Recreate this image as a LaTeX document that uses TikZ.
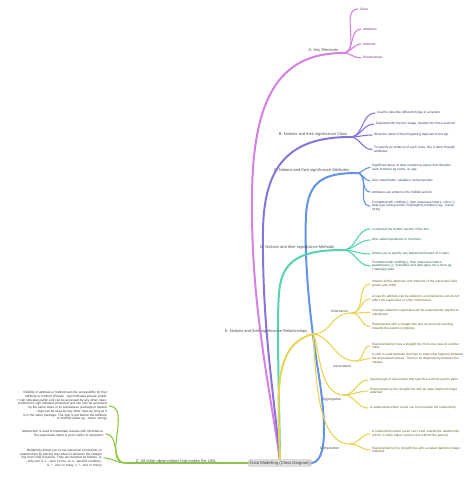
\documentclass[tikz,border=0pt]{standalone}
\usepackage{fontspec}
\setmainfont{Liberation Sans}
\usepackage{xcolor}
\usepackage{tikz}
\pgfdeclarelayer{background}
\pgfsetlayers{background,main}
\definecolor{keycol}{RGB}{214,128,228}
\definecolor{classcol}{RGB}{138,116,220}
\definecolor{attrcol}{RGB}{98,148,228}
\definecolor{methcol}{RGB}{86,212,178}
\definecolor{relcol}{RGB}{232,212,84}
\definecolor{othercol}{RGB}{142,198,72}
\tikzset{
    rootbox/.style={
        draw=gray!60,
        fill=gray!25,
        rounded corners=0.8pt,
        inner sep=1.3pt,
        font=\fontsize{4.2}{5}\selectfont,
        text=black!75,
    },
    branchlabel/.style={
        inner sep=0.6pt,
        font=\fontsize{4}{4.8}\selectfont,
        text=black!70,
    },
    sublabel/.style={
        inner sep=0.6pt,
        font=\fontsize{3.5}{4.2}\selectfont,
        text=black!70,
    },
    leaf/.style={
        anchor=west,
        align=left,
        inner xsep=2pt,
        inner ysep=0.3pt,
        font=\fontsize{3.2}{3.7}\selectfont,
        text=#1!45!black,
    },
    leafleft/.style={leaf=#1, anchor=east, align=right},
    trunk/.style={line width=2pt, line cap=round},
    twig/.style={line width=1.1pt, line cap=round},
    fanright/.style={twig, every edge/.append style={out=0, in=180}},
    fanleft/.style={twig, every edge/.append style={out=180, in=0}},
}
\begin{document}
\begin{tikzpicture}[x=1pt, y=-1pt]
    \useasboundingbox (0,0) rectangle (474,479);

    \node[rootbox] (root) at (280,463) {Data Modelling (Class Diagram)};

    % branch ends
    \coordinate (hA) at (343,53);
    \coordinate (hB) at (350,137);
    \coordinate (hC) at (357,173);
    \coordinate (hD) at (343,250);
    \coordinate (hE) at (313,334);
    \coordinate (hInh) at (352,313);
    \coordinate (hAss) at (356,361);
    \coordinate (hAgg) at (344,395);
    \coordinate (hCom) at (350,444);
    \coordinate (hF) at (125,463);

    \node[branchlabel, anchor=south east] (keyel) at (339,53) {A. Key Elements};
    \node[branchlabel, anchor=south east] (notclass) at (348,137) {B. Notions and their significance Class};
    \node[branchlabel, anchor=south east] (notattr) at (350,173) {C. Notions and their significance Attributes};
    \node[branchlabel, anchor=south east] (notmeth) at (335,250) {D. Notions and their significance Methods};
    \node[branchlabel, anchor=south east] (notrel) at (308,334) {E. Notions and their significance Relationships};
    \node[branchlabel, anchor=south west] (other) at (135,463) {C. All other observations that makes the UML};

    \node[sublabel, anchor=south east] (inh) at (349,313) {Inheritance};
    \node[sublabel, anchor=north east] (ass) at (352,364) {Association};
    \node[sublabel, anchor=north east] (agg) at (342,397) {Aggregation};
    \node[sublabel, anchor=north east] (com) at (340,446) {Composition};

    % key elements
    \node[leaf=keycol] (a1) at (358,9) {Class};
    \node[leaf=keycol] (a2) at (361,29) {Attributes};
    \node[leaf=keycol] (a3) at (361,44) {Methods};
    \node[leaf=keycol] (a4) at (361,58) {Relationships};

    % class
    \node[leaf=classcol] (b1) at (375,113) {Used to describe different things in a system};
    \node[leaf=classcol] (b2) at (374,124) {Depicted with the box shape, divided into three sections};
    \node[leaf=classcol] (b3) at (372,135) {Write the name of the thing being depicted to the top};
    \node[leaf=classcol] (b4) at (372,149.5) {To specify an instance of each class, this is done through\\attributes};

    % attributes
    \node[leaf=attrcol] (c1) at (370,167.5) {Significant piece of data containing values that describe\\each instance eg name, id, age};
    \node[leaf=attrcol] (c2) at (370,181) {Also called fields, variables, and properties};
    \node[leaf=attrcol] (c3) at (370,192) {Attributes are written in the middle section};
    \node[leaf=attrcol] (c4) at (370,206) {Formatted with visibility(-), then lowercase letters, colon (:),\\data type (string-words, int(integers)-numbers) eg. -name:\\string};

    % methods
    \node[leaf=methcol] (d1) at (370,229) {Located at the bottom section of the box};
    \node[leaf=methcol] (d2) at (370,240) {Also called operations or functions};
    \node[leaf=methcol] (d3) at (370,254) {Allows you to specify any behavioral feature of a class};
    \node[leaf=methcol] (d4) at (370,266) {Formatted with visibility(-), then lowercase letters,\\parentheses (), *(variables and data type) not a must eg\\+namefy(Login)};

    % relationships
    \node[leaf=relcol] (i1) at (370,284) {Inherits all the attributes and methods of the superclass (like\\parent and child)};
    \node[leaf=relcol] (i2) at (370,299) {A specific attribute can be added to an inheritance and do not\\affect the superclass or other inheritances};
    \node[leaf=relcol] (i3) at (370,312.5) {Changes added to superclass will be automatically applied to\\subclasses};
    \node[leaf=relcol] (i4) at (370,326.5) {Represented with a straight line and an arrow-tip pointing\\towards the parent (complete)};
    \node[leaf=relcol] (s1) at (370,346) {Represented by lines a straight line from one class to another\\class};
    \node[leaf=relcol] (s2) at (370,358.5) {A verb is used between the lines to state what happens between\\the associated classes. There is no dependency between the\\classes};
    \node[leaf=relcol] (g1) at (368,380) {Special type of association that specifies a whole and its parts};
    \node[leaf=relcol] (g2) at (368,391) {Represented by the straight line with an open diamond shape\\attached};
    \node[leaf=relcol] (g3) at (368,408) {A relationship where a part can exist outside the relationship};
    \node[leaf=relcol] (m1) at (370,434) {A relationship where a part can't exist outside the relationship\\(which is when object cannot exist without the parent)};
    \node[leaf=relcol] (m2) at (370,450) {Represented by the straight line with a coated diamond shape\\attached};

    % other observations
    \node[leafleft=gray] (f1) at (109,406) {Visibility of attribute or method sets the accessibility for that\\attribute or method (Private - sign indicates private; public\\+ sign indicates public and can be accessed by any other class;\\protected \# sign indicates protected and can only be accessed\\by the same class or its subclasses; package or default\\\textasciitilde{} sign can be used by any other class as long as it\\is in the same package. The sign is put before the attribute\\or method name eg. -name: string)};
    \node[leafleft=gray] (f2) at (106,434) {Abstraction is used to instantiate classes with inheritance.\\The superclass name is put in italics to represent.};
    \node[leafleft=gray] (f3) at (104,458) {Multiplicity allows you to set numerical constraints on\\relationships by placing the values in between the straight\\line from child to parent. They are denoted as follows: (1\\- only one, 0..1 - zero or one, m..n - specific numbers,\\0..* - zero or many, 1..* - one or many)};

    \begin{pgfonlayer}{background}
    \draw[trunk, keycol] (root.north) .. controls (268,380) and (251,300) .. (252,200) .. controls (252,100) and (278,53) .. (hA);
    \draw[trunk, classcol] (root.north) .. controls (272,380) and (262,320) .. (263,230) .. controls (264,165) and (290,137) .. (hB);
    \draw[trunk, attrcol] (root.east) .. controls (328,462) and (326,420) .. (318,370) .. controls (310,320) and (304,260) .. (306,215) .. controls (308,180) and (325,173) .. (hC);
    \draw[trunk, methcol] (root.north) .. controls (279,380) and (276,310) .. (280,285) .. controls (285,258) and (305,250) .. (hD);
    \draw[trunk, relcol] (root.north) .. controls (278,395) and (272,345) .. (hE);
    \draw[trunk, othercol] (root.west) -- (hF);

    \draw[twig, relcol] (hE) .. controls (332,334) and (330,313) .. (hInh);
    \draw[twig, relcol] (hE) .. controls (332,336) and (334,361) .. (hAss);
    \draw[twig, relcol] (hE) .. controls (320,345) and (318,395) .. (hAgg);
    \draw[twig, relcol] (hE) .. controls (316,360) and (314,444) .. (hCom);

    \path[fanright, keycol] (hA) edge (a1.west) edge (a2.west) edge (a3.west) edge (a4.west);
    \path[fanright, classcol] (hB) edge (b1.west) edge (b2.west) edge (b3.west) edge (b4.west);
    \path[fanright, attrcol] (hC) edge (c1.west) edge (c2.west) edge (c3.west) edge (c4.west);
    \path[fanright, methcol] (hD) edge (d1.west) edge (d2.west) edge (d3.west) edge (d4.west);
    \path[fanright, relcol] (hInh) edge (i1.west) edge (i2.west) edge (i3.west) edge (i4.west);
    \path[fanright, relcol] (hAss) edge (s1.west) edge (s2.west);
    \path[fanright, relcol] (hAgg) edge (g1.west) edge (g2.west) edge (g3.west);
    \path[fanright, relcol] (hCom) edge (m1.west) edge (m2.west);
    \path[fanleft, othercol] (hF) edge (f1.east) edge (f2.east) edge (f3.east);
    \end{pgfonlayer}
\end{tikzpicture}
\end{document}
